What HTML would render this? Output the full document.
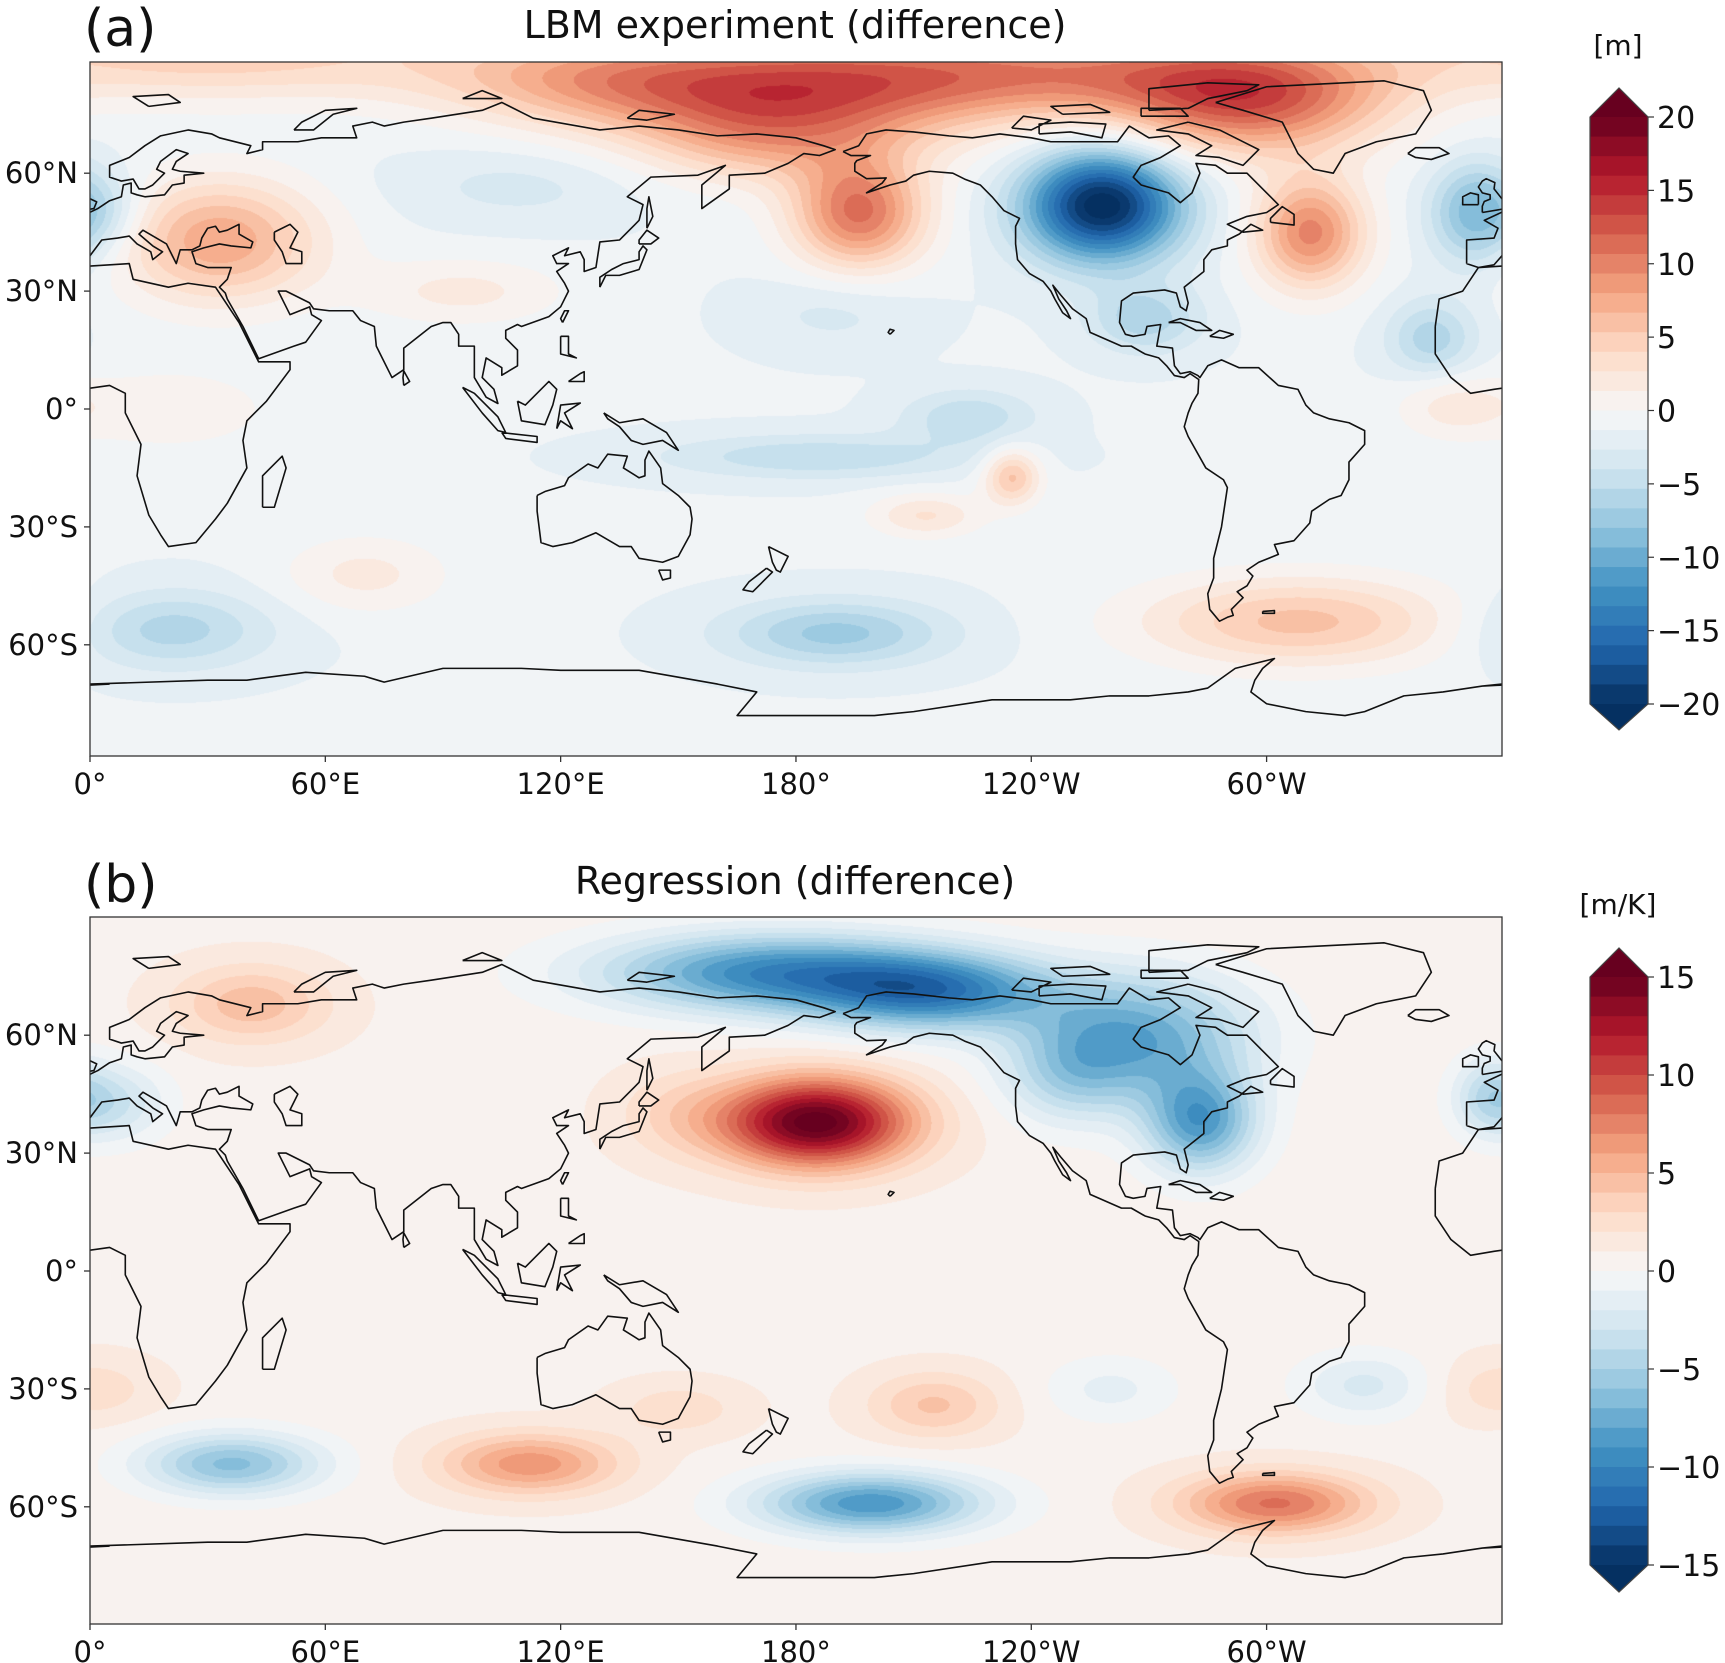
<!DOCTYPE html>
<html><head><meta charset="utf-8">
<style>
html,body{margin:0;padding:0;background:#fff;}
#wrap{position:relative;width:1725px;height:1663px;overflow:hidden;background:#fff;}
canvas{position:absolute;}
svg{position:absolute;left:0;top:0;}
text{font-family:"DejaVu Sans","Liberation Sans",sans-serif;fill:#111;}
</style></head>
<body><div id="wrap">
<canvas id="ca" width="1412" height="694" style="left:90px;top:62px"></canvas>
<canvas id="cb" width="1412" height="707" style="left:90px;top:917px"></canvas>
<svg id="s" width="1725" height="1663" viewBox="0 0 1725 1663"></svg>
</div>
<script>
var stops=[[-1,[5,48,97]],[-0.8,[33,102,172]],[-0.6,[67,147,195]],[-0.4,[146,197,222]],[-0.2,[209,229,240]],[0,[247,247,247]],[0.2,[253,219,199]],[0.4,[244,165,130]],[0.6,[214,96,77]],[0.8,[178,24,43]],[1,[103,0,31]]];
function cmap(t){if(t<-1)t=-1;if(t>1)t=1;for(var i=0;i<stops.length-1;i++){var a=stops[i],b=stops[i+1];if(t<=b[0]){var f=(t-a[0])/(b[0]-a[0]);return [a[1][0]+f*(b[1][0]-a[1][0]),a[1][1]+f*(b[1][1]-a[1][1]),a[1][2]+f*(b[1][2]-a[1][2])];}}return stops[10][1];}
var BA=[[33,43,9,18,11],[196,50,12,12,10],[258,52,-20,14,10],[311,45,11,10,10],
[180,80,11,35,11],[295,79,13,25,10],[240,86,9,40,8],[130,84,7,30,8],[30,90,6,50,8],[170,68,4,20,8],
[353,50,-8,8,9],[5,50,-3,7,7],[224,-2,-4,12,5],[185,-12,-4,28,4],[235,-17,7,5,5],[213,-27,4,10,4],
[308,-54,7,28,8],[190,-57,-6,20,6],[20,-56,-5,18,7],[70,-42,3,15,7],[95,30,3,18,6],[269,23,-5,10,6],[342,18,-5,8,7],
[190,25,-2,15,7],[20,0,2.5,18,7],[347,1,3,10,6],[110,57,-2,22,7]];
var BB=[[185,38,15,17,8],[173,76,-10,30,7],[215,71,-10,22,7],[268,60,-8,20,11],[283,38,-9,10,9],[250,50,-4,12,9],
[41,68,4,14,7],[36,-49,-7,16,5.5],[112,-49,6,16,5.5],[199,-59,-9.5,20,5.5],[302,-59,7.5,17,5.5],[215,-34,3.5,12,6],
[325,-29,-3,12,6],[5,43,-4,10,7],[356,45,-3,6,7],[260,-30,-2,12,6],[150,-35,2,12,5],[0,-30,2,12,6],[150,40,2,12,8]];
function field(id,blobs,bg,vmax,nb,lat0y,topOff){
 var c=document.getElementById(id),ctx=c.getContext('2d'),W=c.width,H=c.height;
 var img=ctx.createImageData(W,H),d=img.data,step=2*vmax/nb;
 for(var y=0;y<H;y++){var lat=(lat0y-(y+topOff))/3.93;
  for(var x=0;x<W;x++){var lon=x/3.922,v=bg;
   for(var k=0;k<blobs.length;k++){var b=blobs[k],dl=lon-b[0];dl=((dl+540)%360)-180;var dy=lat-b[1];
    v+=b[2]*Math.exp(-0.5*(dl*dl/(b[3]*b[3])+dy*dy/(b[4]*b[4])));}
   var li=Math.floor((v+vmax)/step);if(li<0)li=-1;if(li>=nb)li=nb;var cv=(-vmax+(li+0.5)*step)/vmax;
   var col=cmap(cv),p=(y*W+x)*4;d[p]=col[0];d[p+1]=col[1];d[p+2]=col[2];d[p+3]=255;}}
 ctx.putImageData(img,0,0);}
field('ca',BA,-1.2,20,30,409,62);
field('cb',BB,0.7,15,30,1271,917);

var L={
af:[[-17,21],[-16,28],[-10,30],[-6,36],[10,37],[11,33],[20,31],[25,32],[32,31],[34,28],[38,22],[43,12],[51,12],[51,10],[45,2],[40,-3],[39,-8],[40,-15],[35,-24],[32,-28],[27,-34],[20,-35],[18,-32],[15,-27],[12,-17],[13,-9],[9,-1],[9,4],[5,6],[-2,5],[-8,4],[-13,8],[-17,14],[-17,21]],
md:[[44,-25],[47,-25],[50,-15],[49,-12],[44,-17],[44,-25]],
eu:[[-9,37],[-9,43],[-2,43.5],[-1,46],[-4.5,48],[2,51],[5,53],[8,54],[8.5,57],[10.5,57.5],[10.5,55],[12,54.5],[14,54],[19,54.5],[21,57],[24,57.5],[24,59.5],[29,60],[23,60.5],[21,61],[22,63],[25,65],[22,66],[18,63],[17,61],[19,60],[16,57],[14,56],[12.5,56],[11,58.5],[8,58],[5,59],[5,62],[10,64],[14,67],[18,69.5],[25,71],[31,70],[33,69],[41,67],[40,65],[44,66],[44,68],[53,68],[59,69],[68,69],[67,72],[72,73],[75,72],[80,73],[87,74],[100,76],[105,78],[113,74],[130,71],[140,72],[150,71],[160,69.5],[170,70],[180,69],[187,67],[190,66],[186,64.5],[182,65],[178,62.5],[172,60],[163,59.5],[163,56],[156,51],[156,57],[162,62],[155,59.5],[143,59],[137,54],[141,52],[140,48],[135,43],[130,42.5],[129,36],[126,35],[126,38],[125,40],[121,39],[122,41],[118,39],[119,37],[122,37],[119,35],[121,32],[122,30],[120,26],[117,23.5],[110,21],[109,21.5],[106,20],[106,18],[109,15],[109,11],[105,8.6],[105,10.5],[101,13],[100,8],[103,5],[104,1.4],[101,3],[98,8],[98,16],[94,16],[94,19],[92,22],[90,22],[87,21],[80,15.5],[80,10],[77,8],[73,16],[72.5,21],[69,22.5],[67,25],[61,25],[57,25.5],[56,27],[50,30],[48,30],[50,26],[51,24],[56,26],[56.5,24],[59,22.5],[55,17],[52,16],[43,12.8],[39,21],[35,28],[34.5,29.5],[33,31],[35,33],[36,36],[30,36],[27,37],[26,40],[29,41],[33,42],[36,41.5],[41,41],[41.5,42.5],[38,44.5],[38,47],[35,45.5],[33,45],[32,46.5],[30,46],[28.5,43.5],[28,41.5],[26,40.5],[23,40.5],[22,37],[21,39],[19.5,42],[13.5,45.5],[12.5,44.5],[16,41.5],[18.5,40],[16,38],[15.5,40],[12,42],[10,44],[7,43.5],[3,43],[0,39],[-2,36.7],[-6,36],[-9,37]],
cs:[[47,45],[51,47],[53,45],[51,41],[54,40],[54,37],[50,37],[49,40],[47,43],[47,45]],
gb:[[-5,50],[1,51],[1.7,52.7],[0,53.5],[-2,56],[-1.8,57.6],[-4,58.6],[-5,58],[-6,56.5],[-5,55],[-3,54.5],[-3,53.4],[-4.5,52.8],[-5,51.6],[-5,50]],
ie:[[-6,52],[-10,52],[-10,54],[-8,55],[-6,54.5],[-6,52]],
is:[[-24,65],[-22,66.5],[-16,66.5],[-13.5,65],[-18,63.5],[-22,64],[-24,65]],
jp:[[130,31],[131.5,34],[135,34],[140,35.5],[141,38],[142,40.5],[141,41.5],[140,40],[140,38],[136,37],[133,35.5],[130,33.5],[130,31]],
hk:[[140,42],[143,42],[145,43.5],[142,45.5],[140,43],[140,42]],
sk:[[142,46],[143.5,49],[142.5,54],[142,51],[142,46]],
lz:[[120,18.5],[122,18.5],[122,14],[124,13],[120,14],[120,18.5]],
mn:[[122,7],[126,7],[126,9.5],[125,9],[123.5,8],[122,7]],
tw:[[120.5,22],[122,25],[121,25],[120,23],[120.5,22]],
bo:[[109,2],[111,1],[117,7],[119,5],[118,1],[116,-4],[110,-3],[109,2]],
su:[[95,5.5],[98,4],[104,-2],[106,-6],[104,-5.5],[100,-1],[95,5.5]],
jv:[[105,-6],[114,-7],[114,-8.5],[106,-7.5],[105,-6]],
sl:[[119,-5],[120,1],[125,1.5],[121,-1],[123,-5],[120,-3],[119,-5]],
ng:[[131,-1],[135,-3.5],[141,-2.5],[147,-6],[150,-10.5],[146,-8],[141,-9],[138,-8],[135,-4.5],[132,-2.5],[131,-1]],
lk:[[80,6],[81.5,7],[80,9.7],[79.8,8],[80,6]],
au:[[114,-22],[114,-26],[115,-34],[118,-35],[123,-34],[129,-31.5],[135,-35],[138,-35],[140,-38],[146,-39],[150,-37.5],[153,-32],[153.5,-28],[153,-25],[150,-22],[146,-19],[145.5,-15],[142.5,-10.7],[141.5,-13],[141.5,-17],[140,-17.5],[136,-15],[137,-12],[132,-11.5],[129.5,-15],[127,-14],[122,-17.5],[121,-19.5],[116,-21],[114,-22]],
ts:[[145,-41],[148,-41],[148,-43],[146,-43.5],[145,-41]],
nz1:[[173,-35],[178,-37.5],[176,-41.5],[175,-41],[174,-39],[173,-35]],
nz2:[[172.5,-40.5],[174,-41.5],[171,-44.5],[169,-46.5],[166.5,-46],[168,-44],[172.5,-40.5]],
gl:[[-73,78],[-60,82],[-30,83.5],[-20,81],[-18,76],[-22,70],[-32,68],[-40,65],[-43,60],[-48,61],[-52,65],[-54,69],[-56,73],[-66,76],[-73,78]],
am:[[-168,65.5],[-164,67],[-162,70],[-157,71],[-150,70.5],[-141,69.5],[-135,69],[-128,70],[-120,69],[-115,68],[-108,68],[-98,68],[-95,72],[-90,69],[-85,69.5],[-82,67],[-87,64],[-92,62],[-94,59],[-92,57],[-85,55],[-82,52.5],[-79,55],[-77,60],[-78,62.5],[-73,62],[-70,60],[-65,60],[-61,56],[-57,52],[-60,50],[-65,49],[-70,47],[-66,45],[-61,45.5],[-64,47],[-67,44.5],[-70,43],[-70,41.5],[-74,40.5],[-76,38],[-76,35],[-81,31],[-80,27],[-80.5,25],[-82,26],[-83,29.5],[-86,30.3],[-89,30],[-94,29.5],[-97,27.5],[-97.5,22],[-96,19],[-94,18.5],[-91,19],[-90.5,21],[-87,21.5],[-88,16],[-84,15.5],[-83.5,11],[-82,9],[-79.5,9.5],[-77.5,8.5],[-77,8],[-75,11],[-71.5,12.5],[-67,10.5],[-62,10.5],[-57,6],[-52,5],[-50,1],[-48,-1],[-44,-2.5],[-39,-3.5],[-35,-5.5],[-35,-9],[-39,-13.5],[-39,-18],[-41,-22],[-44,-23],[-48.5,-26],[-49,-29],[-53,-33.5],[-58,-34.5],[-57,-37],[-62,-39],[-65,-41],[-63.5,-42.5],[-65,-45],[-67.5,-46.5],[-66,-48],[-69,-51],[-68.5,-52.5],[-70,-53],[-72,-54],[-74.5,-51],[-75,-47],[-73.5,-43],[-73.5,-38],[-71.5,-30],[-70,-20],[-71,-18],[-75.5,-15],[-80,-7],[-81,-4.5],[-80,-1],[-79,1.5],[-77.5,4],[-77.3,7.5],[-79.5,9],[-81,8],[-83.5,8.5],[-85.5,11],[-87.5,13],[-91,14],[-94.5,16],[-97,16],[-105,19.5],[-106,23],[-109.5,25.5],[-112.5,29],[-114.5,31.5],[-113,28],[-111,25],[-110,23],[-112,24.5],[-114,28],[-115,30],[-117,32.5],[-120.5,34.5],[-123.5,38],[-124,42],[-124,46.5],[-123,48.5],[-127,50.5],[-130,54],[-133,57],[-137,58.5],[-140,60],[-146,60.5],[-150,59.5],[-152,58],[-156,57],[-162,55],[-158,57.5],[-157,58.8],[-162,58.6],[-165,60.5],[-165,62.5],[-164.5,63.2],[-161,64.5],[-166,64.5],[-168,65.5]],
bf:[[-80,73],[-72,71],[-64,67],[-62,66],[-66,62],[-72,64],[-78,64.5],[-74,67],[-80,70],[-88,71],[-80,73]],
el:[[-90,76],[-80,76.5],[-75,79],[-65,81],[-62,82.5],[-75,83],[-90,81.5],[-90,76]],
vi:[[-118,70],[-110,70.5],[-102,69],[-101,72.5],[-110,73],[-118,72.5],[-118,70]],
bk:[[-125,71.5],[-122,74.5],[-115,73.5],[-120,71],[-125,71.5]],
dv:[[-92,74.5],[-80,74.5],[-82,76.5],[-92,76.5],[-92,74.5]],
pw:[[-112,75],[-100,75.5],[-105,77.5],[-115,77],[-112,75]],
nf:[[-59,47.5],[-53,46.8],[-53,49.5],[-56,51.5],[-59,48.5],[-59,47.5]],
cu:[[-85,22],[-82,23],[-77,22],[-74,20],[-78,20],[-82,22],[-85,22]],
hi:[[-74.5,18.5],[-72,20],[-68.5,19],[-71,18],[-74.5,18.5]],
hw:[[-156,19],[-155,20],[-156,20.3],[-156.5,19.5],[-156,19]],
sv:[[15,77],[23,78],[20,80],[11,79.5],[15,77]],
nz3:[[52,71],[57,71],[62,75],[68,76.5],[60,76],[54,73],[52,71]],
sz:[[95,79],[105,79],[100,81],[95,79]],
ns:[[137,74],[142,73.5],[149,75],[140,76],[137,74]],
fk:[[-61,-51.5],[-58,-51.3],[-58,-52],[-61,-52],[-61,-51.5]],
an:[[-5,-70.5],[0,-70],[30,-69],[40,-69],[55,-67],[70,-68],[75,-69.5],[90,-66],[110,-66],[120,-66.5],[140,-66.5],[160,-70],[170,-72],[165,-78],[180,-78],[200,-78],[210,-77],[230,-74],[250,-74],[260,-73],[270,-73],[280,-72],[285,-71],[292,-66],[302,-63.5],[299,-66],[297,-69],[296,-72],[300,-75],[310,-77],[320,-78],[325,-77],[330,-75],[335,-73],[345,-72],[355,-70.5],[365,-70]]
};
var svg=document.getElementById('s'),NS='http://www.w3.org/2000/svg';
function el(t,a,p){var e=document.createElementNS(NS,t);for(var k in a)e.setAttribute(k,a[k]);(p||svg).appendChild(e);return e;}
var dstr='';
for(var k in L){var pts=L[k];for(var o=-360;o<=360;o+=360){dstr+='M'+pts.map(function(p){return (p[0]+o)+','+(-p[1]);}).join('L');}}
var defs=el('defs',{});
function panel(top,h,lat0y,id){
 var cp=el('clipPath',{id:id},defs);el('rect',{x:90,y:top,width:1412,height:h},cp);
 var g=el('g',{'clip-path':'url(#'+id+')'});
 var g2=el('g',{transform:'translate(90,'+lat0y+') scale(3.922,3.93)'},g);
 el('path',{d:dstr,fill:'none',stroke:'#111','stroke-width':1.6,'vector-effect':'non-scaling-stroke','stroke-linejoin':'round'},g2);
 el('rect',{x:90,y:top,width:1412,height:h,fill:'none',stroke:'#333','stroke-width':1.3});
 var lats=[[60,'60°N'],[30,'30°N'],[0,'0°'],[-30,'30°S'],[-60,'60°S']];
 lats.forEach(function(l){var y=lat0y-l[0]*3.93;el('line',{x1:84,x2:90,y1:y,y2:y,stroke:'#333','stroke-width':1.3});
  var t=el('text',{x:78,y:y+10,'text-anchor':'end','font-size':29});t.textContent=l[1];});
 var lons=[[0,'0°'],[60,'60°E'],[120,'120°E'],[180,'180°'],[240,'120°W'],[300,'60°W']];
 lons.forEach(function(l){var x=90+l[0]*3.922;el('line',{x1:x,x2:x,y1:top+h,y2:top+h+6,stroke:'#333','stroke-width':1.3});
  var t=el('text',{x:x,y:top+h+38,'text-anchor':'middle','font-size':29});t.textContent=l[1];});
}
panel(62,694,409,'c1');panel(917,707,1271,'c2');
function cbar(ytop,ybot,apexT,apexB,vmax,nb,ticks,unit,uy){
 var step=(ybot-ytop)/nb;
 for(var i=0;i<nb;i++){var v=(vmax-(i+0.5)*2*vmax/nb)/vmax;var c=cmap(v);
  el('rect',{x:1590,y:ytop+i*step,width:58,height:step+0.6,fill:'rgb('+c.map(Math.round).join(',')+')'});}
 var ct=cmap(1),cb=cmap(-1);
 el('polygon',{points:'1590,'+ytop+' 1619,'+apexT+' 1648,'+ytop,fill:'rgb('+ct.join(',')+')'});
 el('polygon',{points:'1590,'+ybot+' 1619,'+apexB+' 1648,'+ybot,fill:'rgb('+cb.join(',')+')'});
 el('polygon',{points:'1590,'+ytop+' 1619,'+apexT+' 1648,'+ytop+' 1648,'+ybot+' 1619,'+apexB+' 1590,'+ybot,fill:'none',stroke:'#444','stroke-width':1.2});
 ticks.forEach(function(tv){var y=ytop+(vmax-tv)/(2*vmax)*(ybot-ytop);el('line',{x1:1648,x2:1654,y1:y,y2:y,stroke:'#333','stroke-width':1.2});
  var t=el('text',{x:1657,y:y+11,'font-size':30});t.textContent=tv<0?'\u2212'+(-tv):''+tv;});
 var u=el('text',{x:1618,y:uy,'text-anchor':'middle','font-size':28});u.textContent=unit;
}
cbar(117,704,88,730,20,30,[20,15,10,5,0,-5,-10,-15,-20],'[m]',55);
cbar(977,1565,948,1592,15,30,[15,10,5,0,-5,-10,-15],'[m/K]',914);
function tx(x,y,s,sz,anc){var t=el('text',{x:x,y:y,'font-size':sz,'text-anchor':anc||'start'});t.textContent=s;}
tx(795,38,'LBM experiment (difference)',38,'middle');
tx(795,894,'Regression (difference)',38,'middle');
tx(84,46,'(a)',52);tx(84,902,'(b)',52);
</script>
</body></html>
